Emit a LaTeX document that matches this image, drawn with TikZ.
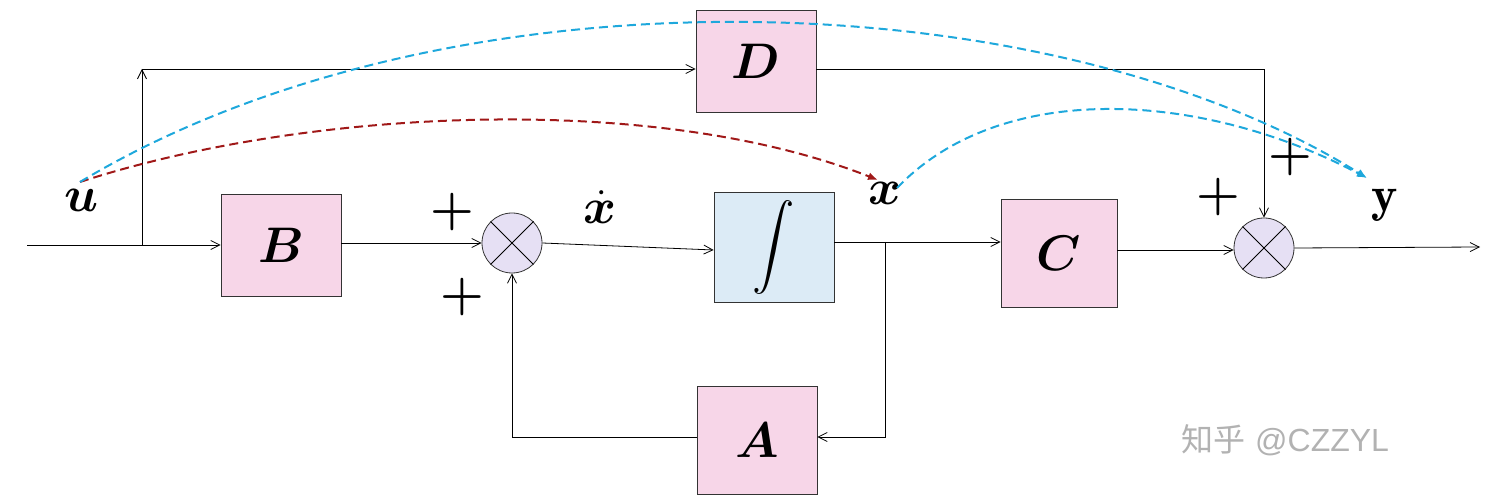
\RequirePackage{fix-cm}
\documentclass[tikz,border=0pt]{standalone}
\usepackage{amsmath,bm}
\usepackage{fontspec}
\newfontfamily\cjk{Noto Sans CJK SC}
\usetikzlibrary{arrows.meta}
\DeclareMathSizes{44}{44}{30}{22}
\DeclareMathSizes{50}{50}{34}{24}
\definecolor{boxpink}{HTML}{F7D6E8}
\definecolor{boxblue}{HTML}{DCEBF6}
\definecolor{sumfill}{HTML}{E6E0F4}
\definecolor{dred}{HTML}{A01818}
\definecolor{dblue}{HTML}{1EA8DC}
\begin{document}
\begin{tikzpicture}[x=1pt,y=-1pt,
  blk/.style={draw=black!80,line width=0.8pt,fill=boxpink,minimum width=120pt,minimum height=102pt,inner sep=0pt,font=\fontsize{50}{50}\selectfont},
  sum/.style={draw=black!80,line width=0.8pt,fill=sumfill,circle,minimum size=60pt,inner sep=0pt},
  ar/.style={-{Straight Barb[length=9pt,width=9pt]},line width=0.8pt},
  ln/.style={line width=0.8pt},
  lab/.style={font=\fontsize{50}{50}\selectfont,inner sep=1pt},
  dsh/.style={dashed,dash pattern=on 9pt off 5pt,line width=2pt}]
\useasboundingbox (0,0) rectangle (1489,502);
\node[blk] (D) at (756,61) {$\bm{D}$};
\node[blk] (B) at (281,245) {$\bm{B}$};
\node[blk,fill=boxblue,minimum height=110pt] (I) at (774,247) {\scalebox{1.7}{$\displaystyle\int$}};
\node[blk,minimum width=116pt,minimum height=108pt] (C) at (1059,253) {$\bm{C}$};
\node[blk,minimum height=108pt] (A) at (757,440) {$\bm{A}$};
\node[sum] (S1) at (512,243) {};
\node[sum] (S2) at (1264,248) {};
\foreach \s in {S1,S2}{
  \draw[ln] (\s.north west) -- (\s.south east);
  \draw[ln] (\s.north east) -- (\s.south west);}
\coordinate (in) at (27,245);
\coordinate (br) at (142,245);
\coordinate (up) at (142,69);
\coordinate (out) at (1480,247);
\coordinate (br2) at (885,242);
\draw[ar] (in) -- (B.west);
\draw[ar] (br) -- (up);
\draw[ar] (up) -- (D.west |- up);
\draw[ar] (B.east |- S1) -- (S1.west);
\draw[ar] (S1.east) -- (I.west |- 0,250);
\draw[ar] (I.east |- br2) -- (C.west |- br2);
\draw[ar] (br2) |- (A.east |- 0,437);
\draw[ar] (A.west |- 0,437) -| (S1.south);
\draw[ar] (D.east |- up) -| (S2.north);
\draw[ar] (C.east |- 0,250) -- (S2.west |- 0,250);
\draw[ar] (S2.east) -- (out);
\node[lab] (u) at (82,200) {$\bm{u}$};
\node[lab] (p1) at (452,212) {$\bm{+}$};
\node[lab] (p2) at (462,297) {$\bm{+}$};
\node[lab] (xd) at (600,207) {$\dot{\bm{x}}$};
\node[lab] (x) at (885,193) {$\bm{x}$};
\node[lab] (p3) at (1218,197) {$\bm{+}$};
\node[lab] (p4) at (1290,157) {$\bm{+}$};
\node[lab] (y) at (1385,205) {$\mathbf{y}$};
\coordinate (u0) at (80,182);
\coordinate (x0) at (878,180);
\coordinate (x1) at (897,188);
\coordinate (y0) at (1367,178);
\draw[dsh,dred,-{Latex[length=10pt,width=8pt]}] (u0) .. controls (300,110) and (650,90) .. (x0);
\draw[dsh,dblue,-{Latex[length=10pt,width=8pt]}] (u0) .. controls (450,-40) and (1050,-20) .. (y0);
\draw[dsh,dblue,-{Latex[length=10pt,width=8pt]}] (x1) .. controls (1000,80) and (1200,90) .. (y0);
\node[text=black!30,font=\fontsize{32}{32}\selectfont,anchor=west] (wm) at (1178,440) {{\cjk 知乎} {\fontspec{Liberation Sans}@CZZYL}};
\end{tikzpicture}
\end{document}
